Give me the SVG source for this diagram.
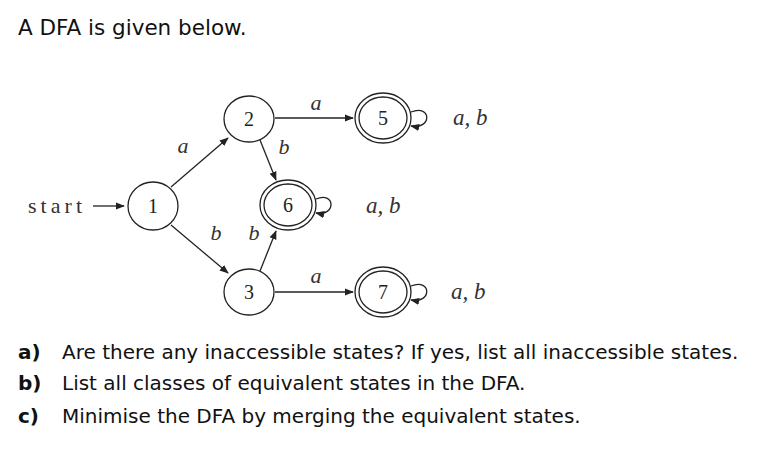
<svg xmlns="http://www.w3.org/2000/svg" width="781" height="456" viewBox="0 0 781 456">
<defs>
<marker id="ah" viewBox="0 0 10 10" refX="9" refY="5" markerWidth="7" markerHeight="7" orient="auto"><path d="M0,1 L10,5 L0,9 z" fill="#222"/></marker>
<style>
.s{fill:#fff;stroke:#222;stroke-width:1.3}
.n{font-family:"Liberation Serif",serif;font-size:20px;fill:#222;text-anchor:middle}
.l{font-family:"Liberation Serif",serif;font-size:22px;font-style:italic;fill:#333;text-anchor:middle}
.ls{font-family:"Liberation Serif",serif;font-size:23px;font-style:italic;fill:#333}
.e{fill:none;stroke:#222;stroke-width:1.3;marker-end:url(#ah)}
.t{font-family:"DejaVu Sans",sans-serif;font-size:20px;fill:#111}
.b{font-weight:bold}
</style>
</defs>
<rect width="781" height="456" fill="#fff"/>
<text class="t" x="18" y="35" style="font-size:21.5px">A DFA is given below.</text>
<g id="connectors">
<line class="e" x1="93" y1="206" x2="124" y2="206"/>
<line class="e" x1="171" y1="187" x2="228" y2="138"/>
<line class="e" x1="171" y1="225" x2="228" y2="273"/>
<line class="e" x1="275" y1="118" x2="353" y2="118"/>
<line class="e" x1="275" y1="292" x2="353" y2="292"/>
<line class="e" x1="260" y1="140" x2="276" y2="180"/>
<line class="e" x1="260" y1="271" x2="276" y2="231"/>
<path class="e" d="M411,112 C432,104 432,130 411,126"/>
<path class="e" d="M316,199 C336,191 336,217 316,213"/>
<path class="e" d="M411,286 C432,278 432,304 411,300"/>
<text class="l" x="183" y="153">a</text>
<text class="l" x="284" y="154">b</text>
<text class="l" x="216" y="240">b</text>
<text class="l" x="254" y="240">b</text>
<text class="l" x="316" y="110">a</text>
<text class="l" x="316" y="283">a</text>
<text class="ls" x="453" y="125">a, b</text>
<text class="ls" x="366" y="213">a, b</text>
<text class="ls" x="451" y="299">a, b</text>
</g>
<text x="28" y="213" textLength="54" style="font-family:'Liberation Serif',serif;font-size:22px;fill:#333">start</text>
<g id="n1"><ellipse class="s" cx="153" cy="206" rx="25" ry="24"/><text class="n" x="153" y="213">1</text></g>
<g id="n2"><ellipse class="s" cx="249" cy="119" rx="25" ry="23"/><text class="n" x="249" y="126">2</text></g>
<g id="n3"><ellipse class="s" cx="249" cy="292" rx="25" ry="23"/><text class="n" x="249" y="299">3</text></g>
<g id="n5"><ellipse class="s" cx="383" cy="118" rx="28" ry="25"/><ellipse class="s" cx="383" cy="118" rx="24" ry="21"/><text class="n" x="383" y="125">5</text></g>
<g id="n6"><ellipse class="s" cx="288" cy="205" rx="28" ry="25"/><ellipse class="s" cx="288" cy="205" rx="24" ry="21"/><text class="n" x="288" y="212">6</text></g>
<g id="n7"><ellipse class="s" cx="383" cy="292" rx="28" ry="25"/><ellipse class="s" cx="383" cy="292" rx="24" ry="21"/><text class="n" x="383" y="299">7</text></g>
<text class="t b" x="18" y="359">a)</text><text class="t" x="62" y="359">Are there any inaccessible states? If yes, list all inaccessible states.</text>
<text class="t b" x="18" y="390">b)</text><text class="t" x="62" y="390">List all classes of equivalent states in the DFA.</text>
<text class="t b" x="18" y="423">c)</text><text class="t" x="62" y="423">Minimise the DFA by merging the equivalent states.</text>
</svg>
